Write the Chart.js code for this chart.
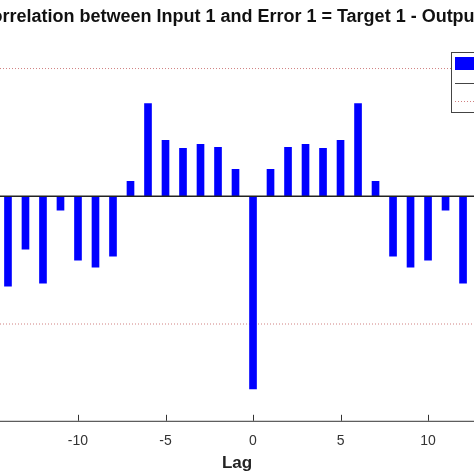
<!DOCTYPE html>
<html><head><meta charset="utf-8">
<script src="https://cdn.jsdelivr.net/npm/chart.js@4"></script>
<style>html,body{margin:0;padding:0;overflow:hidden;background:#fff;width:474px;height:474px}
#wrap{position:absolute;left:-30px;top:0;width:534px;height:474px}</style></head>
<body><div id="wrap"><canvas id="c"></canvas></div>
<script>
const lags = [-14,-13,-12,-11,-10,-9,-8,-7,-6,-5,-4,-3,-2,-1,0,1,2,3,4,5,6,7,8,9,10,11,12,13];
const corr = [-0.90,-0.53,-0.87,-0.14,-0.64,-0.71,-0.60,0.15,0.93,0.56,0.48,0.52,0.49,0.27,-1.93,0.27,0.49,0.52,0.48,0.56,0.93,0.15,-0.60,-0.71,-0.64,-0.14,-0.87,-0.53];
const confLimit = 1.28;
const xTicks = [-15,-10,-5,0,5,10];
const xMin = -16.17, xMax = 14.34;

const deco = {
  id:'deco',
  afterDraw(ch){
    const c = ch.ctx, a = ch.chartArea, xs = ch.scales.x;
    c.save();
    c.strokeStyle='#333'; c.lineWidth=1;
    c.beginPath(); c.moveTo(a.left,a.bottom+0.5); c.lineTo(a.right,a.bottom+0.5); c.stroke();
    xTicks.forEach(t=>{const p=Math.round(xs.getPixelForValue(t))+0.5;c.beginPath();c.moveTo(p,a.bottom);c.lineTo(p,a.bottom-6);c.stroke();});
    const L=481;
    c.fillStyle='#fff'; c.fillRect(L,52,80,61);
    c.strokeStyle='#444'; c.strokeRect(L+0.5,52.5,80,60);
    c.fillStyle='#0000ff'; c.fillRect(L+4,57,30,13);
    c.strokeStyle='#444'; c.beginPath(); c.moveTo(L+4,83.5); c.lineTo(L+34,83.5); c.stroke();
    c.strokeStyle='#d08080'; c.setLineDash([1,2]); c.beginPath(); c.moveTo(L+4,101.5); c.lineTo(L+34,101.5); c.stroke();
    c.restore();
  }
};

new Chart(document.getElementById('c'),{
  data:{datasets:[
    {type:'bar',label:'Correlations',data:lags.map((l,i)=>({x:l,y:corr[i]})),backgroundColor:'#0000ff',barThickness:7,order:2},
    {type:'line',label:'Zero Correlation',data:[{x:xMin,y:0},{x:xMax,y:0}],borderColor:'#222',borderWidth:1.5,pointRadius:0,order:1},
    {type:'line',label:'Confidence Limit',data:[{x:xMin,y:confLimit},{x:xMax,y:confLimit}],borderColor:'#d08080',borderWidth:1,borderDash:[1,2],pointRadius:0,order:3},
    {type:'line',label:'Confidence Limit',data:[{x:xMin,y:-confLimit},{x:xMax,y:-confLimit}],borderColor:'#d08080',borderWidth:1,borderDash:[1,2],pointRadius:0,order:3}
  ]},
  options:{responsive:true,maintainAspectRatio:false,animation:false,
    layout:{padding:{left:0,right:0,top:4,bottom:0}},
    plugins:{legend:{display:false},tooltip:{enabled:false},
      title:{display:true,text:'Correlation between Input 1 and Error 1 = Target 1 - Output 1',font:{family:'Arial, Liberation Sans',size:18,weight:'bold'},color:'#111',padding:{top:2,bottom:9}}},
    scales:{
      x:{type:'linear',offset:false,min:xMin,max:xMax,afterBuildTicks(s){s.ticks=xTicks.map(v=>({value:v}));},
        grid:{display:false},border:{display:false},
        ticks:{font:{family:'Arial, Liberation Sans',size:14},color:'#333',padding:4,autoSkip:false,maxRotation:0},
        title:{display:true,text:'Lag',font:{family:'Arial, Liberation Sans',size:17,weight:'bold'},color:'#222',padding:{top:0,bottom:0}}},
      y:{display:false,min:-2.25,max:1.6}
    }},
  plugins:[deco]
});
</script></body></html>
